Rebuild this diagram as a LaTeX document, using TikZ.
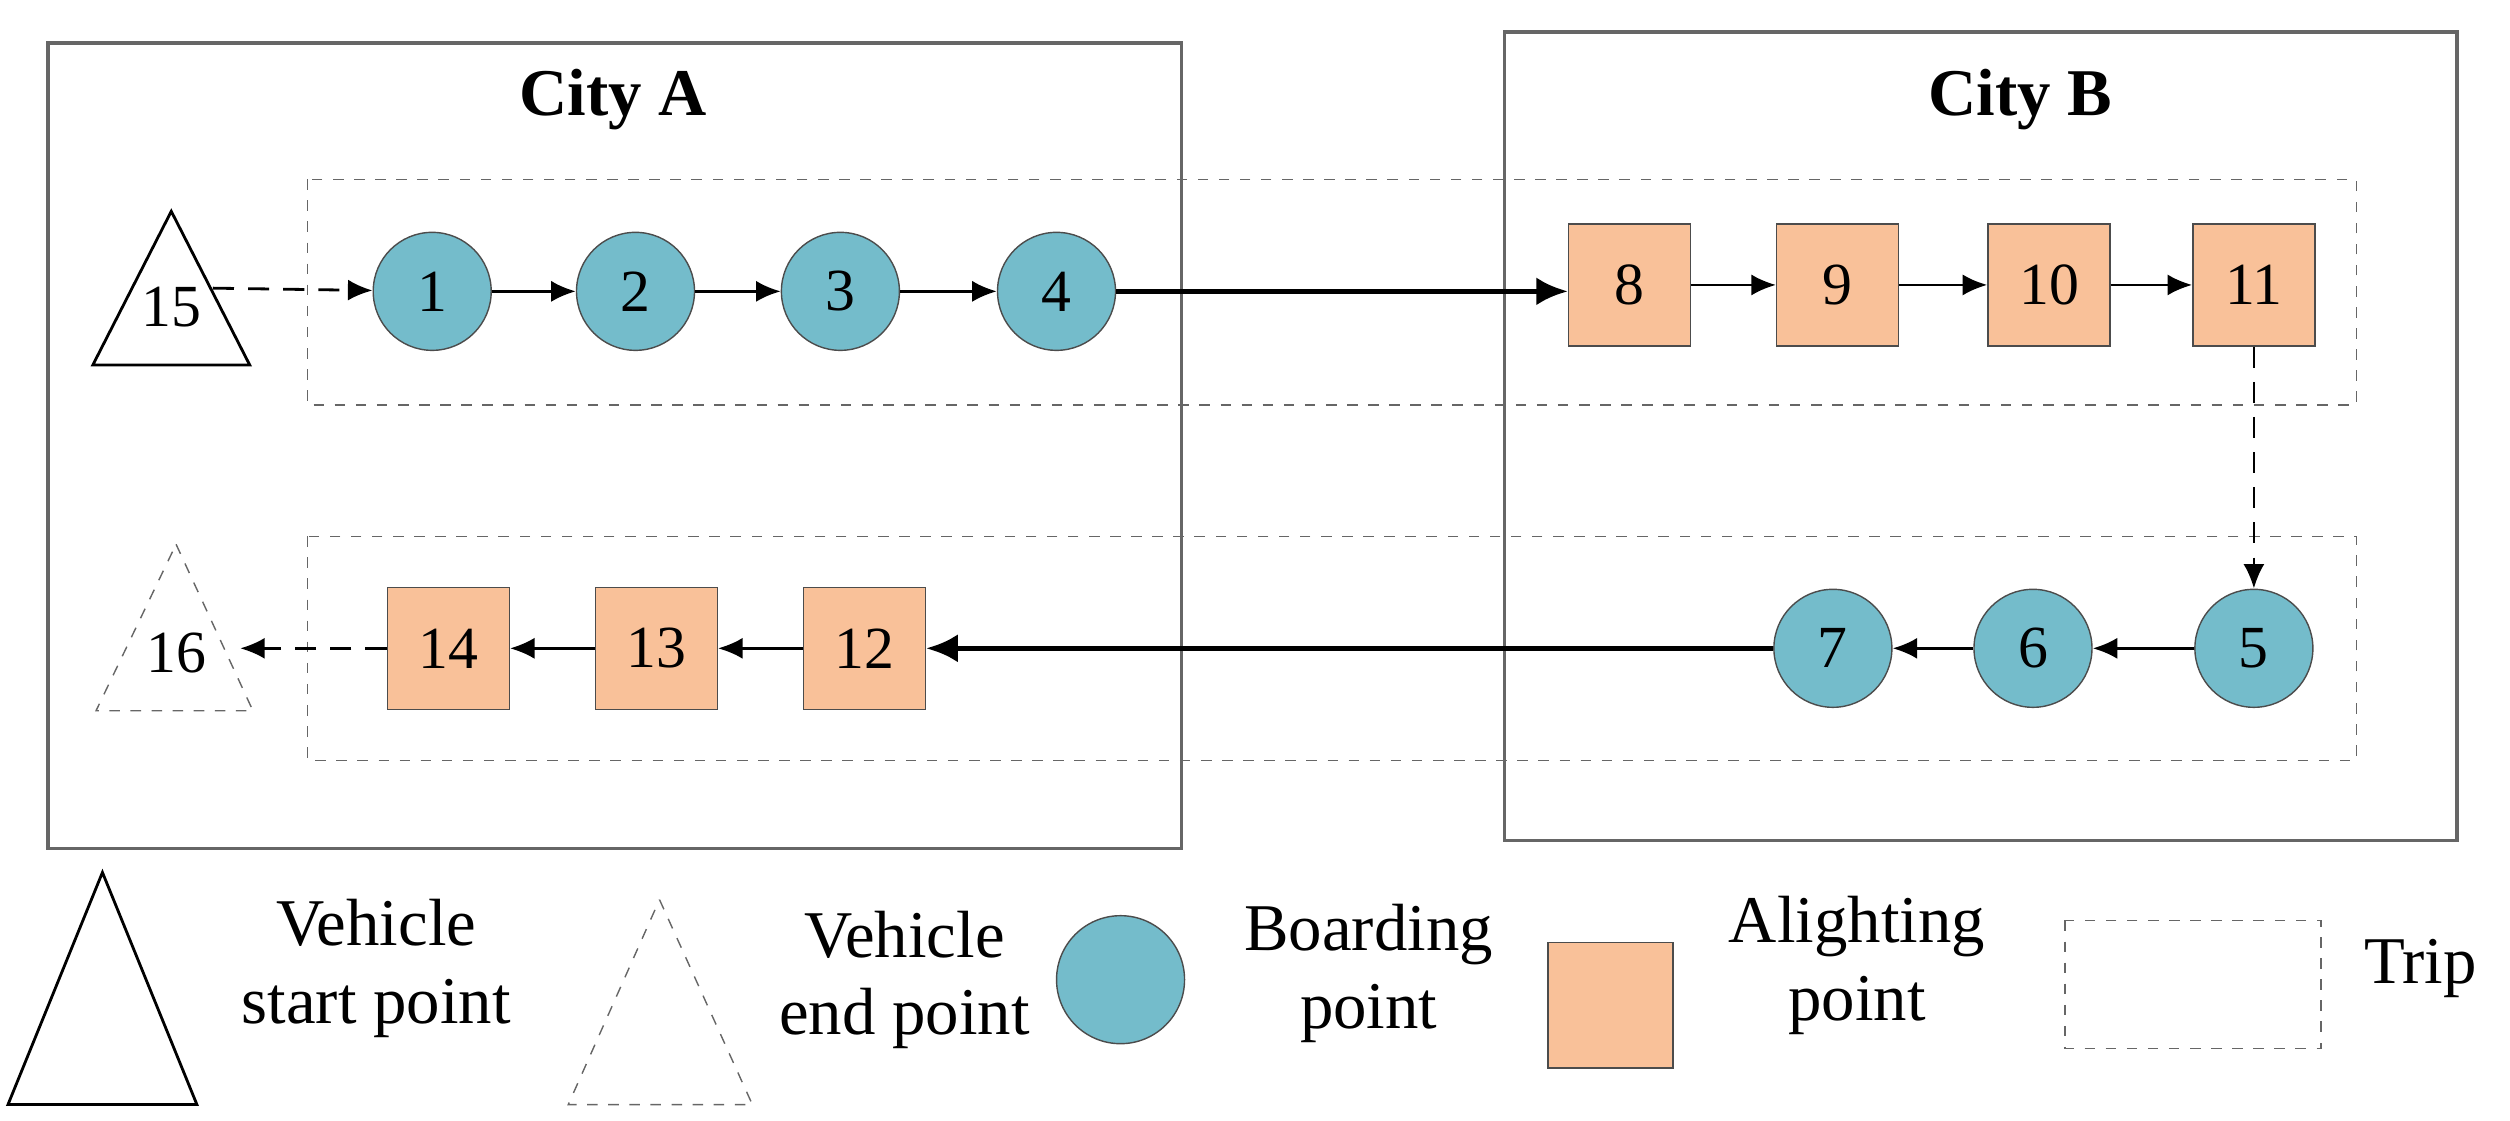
\documentclass[tikz,border=0pt]{standalone}
\usepackage{fontspec}
\setmainfont{Liberation Serif}
\usetikzlibrary{arrows.meta}
\begin{document}
\begin{tikzpicture}[x=0.016cm,y=-0.016cm,
  bp/.style={circle,draw=black!70,fill={rgb,255:red,116;green,188;blue,203},minimum size=1.18cm,inner sep=0pt,font=\fontsize{17}{18}\selectfont},
  ap/.style={rectangle,draw=black!70,fill={rgb,255:red,249;green,193;blue,153},minimum size=1.22cm,inner sep=0pt,font=\fontsize{17}{18}\selectfont},
  ar/.style={-{Latex[length=7pt,width=6pt]},thick},
  big/.style={-{Latex[length=9pt,width=8pt]},line width=1.6pt},
  dar/.style={-{Latex[length=7pt,width=6pt]},dash pattern=on 6pt off 4pt,thick},
  box/.style={draw=black!60,line width=1pt},
  trip/.style={draw=black!60,dashed},
  lg/.style={align=center,font=\fontsize{19}{22}\selectfont}]
\useasboundingbox (0,0) rectangle (1568,700);
\draw[box] (30,27) rectangle (738,530);
\draw[box] (940,20) rectangle (1535,525);
\node[font=\bfseries\fontsize{19}{22}\selectfont] (ca) at (383,62) {City A};
\node[font=\bfseries\fontsize{19}{22}\selectfont] (cb) at (1262,62) {City B};
\draw[trip] (192,112) rectangle (1472,253);
\draw[trip] (192,335) rectangle (1472,475);
% triangles
\draw[thick] (107,132) -- (156,228) -- (58,228) -- cycle;
\node[font=\fontsize{17}{18}\selectfont] (n15) at (107,192) {15};
\coordinate (t15) at (133,180);
\draw[dashed,black!60] (110,340) -- (158,444) -- (60,444) -- cycle;
\node[font=\fontsize{17}{18}\selectfont] (n16) at (110,408) {16};
\coordinate (t16) at (150,405);
% nodes
\node[bp] (n1) at (270,182) {1};
\node[bp] (n2) at (397,182) {2};
\node[bp] (n3) at (525,182) {3};
\node[bp] (n4) at (660,182) {4};
\node[ap] (n8) at (1018,178) {8};
\node[ap] (n9) at (1148,178) {9};
\node[ap] (n10) at (1280,178) {10};
\node[ap] (n11) at (1408,178) {11};
\node[bp] (n5) at (1408,405) {5};
\node[bp] (n6) at (1270,405) {6};
\node[bp] (n7) at (1145,405) {7};
\node[ap] (n12) at (540,405) {12};
\node[ap] (n13) at (410,405) {13};
\node[ap] (n14) at (280,405) {14};
\draw[dar] (t15) -- (n1);
\draw[ar] (n1) -- (n2);
\draw[ar] (n2) -- (n3);
\draw[ar] (n3) -- (n4);
\draw[big] (n4) -- (n8.west|-n4);
\draw[ar] (n8) -- (n9);
\draw[ar] (n9) -- (n10);
\draw[ar] (n10) -- (n11);
\draw[dar] (n11) -- (n5);
\draw[ar] (n5) -- (n6);
\draw[ar] (n6) -- (n7);
\draw[big] (n7) -- (n12);
\draw[ar] (n12) -- (n13);
\draw[ar] (n13) -- (n14);
\draw[dar] (n14) -- (t16);
% legend
\draw[thick] (64,545) -- (123,690) -- (5,690) -- cycle;
\node[lg] (l1) at (235,605) {Vehicle\\start point};
\draw[dashed,black!60] (412,562) -- (470,690) -- (355,690) -- cycle;
\node[lg] (l2) at (565,612) {Vehicle\\end point};
\node[bp,minimum size=1.28cm] (l3c) at (700,612) {};
\node[lg] (l3) at (855,608) {Boarding\\point};
\node[ap,minimum size=1.25cm] (l4s) at (1006,628) {};
\node[lg] (l4) at (1160,603) {Alighting\\point};
\draw[trip] (1290,575) rectangle (1450,655);
\node[lg] (l5) at (1512,605) {Trip};
\end{tikzpicture}
\end{document}
